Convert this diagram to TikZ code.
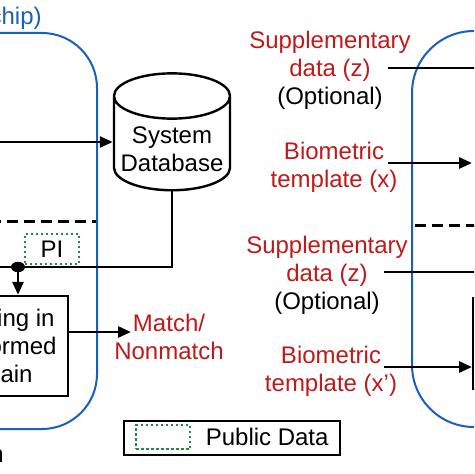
\documentclass[tikz,border=0pt]{standalone}
\usepackage{fontspec}
\setmainfont{Liberation Sans}
\usepackage{tikz}
\usetikzlibrary{shapes,arrows.meta,positioning}
\usepackage{xcolor}
\definecolor{chipblue}{RGB}{25,95,190}
\definecolor{datared}{RGB}{192,25,25}
\definecolor{pubgreen}{RGB}{30,140,60}

\begin{document}
\begin{tikzpicture}[
    x=0.5pt, y=-0.5pt,
    font=\fontsize{12}{14}\selectfont,
    box/.style={draw, rectangle, line width=1.2pt, inner sep=0pt},
    pub/.style={draw=pubgreen, rectangle, line width=1.2pt, dash pattern=on 1.2pt off 1.3pt, inner sep=0pt},
    redtxt/.style={text=datared, align=center},
    frag/.style={inner sep=0pt, anchor=base east},
    flow/.style={line width=1.4pt, -{Triangle[length=6.5pt,width=5.5pt]}},
    wire/.style={line width=1.4pt},
    sep/.style={line width=1.5pt, dash pattern=on 5.5pt off 3pt},
    chip/.style={draw=chipblue, line width=1pt}
]
\useasboundingbox (0,0) rectangle (474,474);
\clip (0,0) rectangle (474,474);

% chips
\draw [chip, rounded corners=27.5pt] (-120,33) rectangle (97,429);
\draw [chip, rounded corners=31pt] (412,31) rectangle (620,427);
\node (chiplabel) [frag, text=chipblue] at (42,25) {chip)};
\draw [sep] (-10,222) -- (96,222);
\draw [sep] (415,226) -- (480,226);

% left side
\node (db) [cylinder, shape border rotate=90, draw, line width=1.2pt, minimum width=58pt, minimum height=51pt, aspect=0.39, align=center] at (172,149) {System\\Database};
\node (pi) [pub, minimum width=27pt, minimum height=15pt] at (52,249) {PI};
\node (matchbox) [box, minimum width=74pt, minimum height=50pt] at (-6,346) {};
\node (mt1) [frag] at (55,326) {ing in};
\node (mt2) [frag] at (57,354) {ormed};
\node (mt3) [frag] at (33,382) {ain};
\node (result) [redtxt] at (169,337) {Match/\\Nonmatch};
\node (cut) [frag] at (4,462) {n};

\coordinate (dbin) at (-10,142);
\coordinate (busend) at (-10,267);
\coordinate (tap) at (18,267);
\coordinate (mtip) at (131,332);
\draw [flow] (dbin) -- (dbin -| db.west);
\draw [wire] (db.south) |- (busend);
\fill (tap) ellipse [x radius=3.5pt, y radius=2.6pt];
\draw [flow] (tap) -- (tap |- matchbox.north);
\draw [flow] (matchbox.east |- mtip) -- (mtip);

% right side
\node (rbox) [box, minimum width=60pt, minimum height=45.5pt, anchor=north west] at (472,297) {};
\node (supA) [redtxt] at (330,70) {Supplementary\\data (z)\\\textcolor{black}{(Optional)}};
\node (bioA) [redtxt] at (334,167) {Biometric\\template (x)};
\node (supB) [redtxt] at (327,275) {Supplementary\\data (z)\\\textcolor{black}{(Optional)}};
\node (bioB) [redtxt] at (331,371) {Biometric\\template (x’)};

\coordinate (zA) at (388,68);
\coordinate (xA) at (388,163);
\coordinate (zB) at (384,272);
\coordinate (xB) at (384,367);
\coordinate (rim) at (480,0);
\draw [wire] (zA) -- (zA -| rim);
\draw [flow] (xA) -- (xA -| rbox.west);
\draw [wire] (zB) -- (zB -| rim);
\draw [flow] (xB) -- (xB -| rbox.west);

% legend
\node (legend) [box, line width=1pt, minimum width=108pt, minimum height=17pt, anchor=north west] at (123,420) {};
\node (pubkey) [pub, minimum width=27pt, minimum height=12pt, anchor=north west] at (135,424) {};
\node (pubtxt) [right=7pt of pubkey, inner sep=0pt] {Public Data};
\end{tikzpicture}
\end{document}
